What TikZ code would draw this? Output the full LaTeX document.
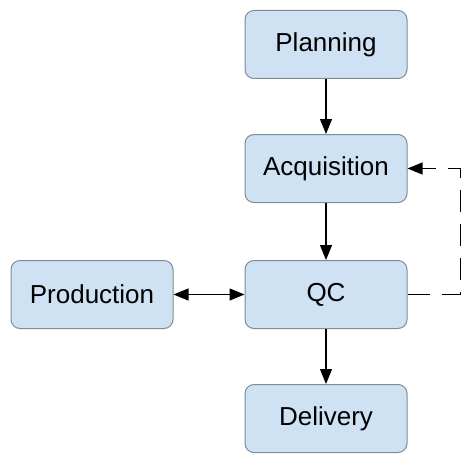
\documentclass[tikz,border=0pt]{standalone}
\usepackage{fontspec}
\setmainfont{Liberation Sans}
\usetikzlibrary{positioning, arrows.meta}
\definecolor{boxfill}{HTML}{CFE2F3}
\definecolor{boxline}{HTML}{7F8C95}
\tikzset{
    ->, % directed connectors
    >={Triangle[length=15pt, width=12pt]}, % filled arrow heads
    every node/.style={font=\fontsize{26}{30}\selectfont},
    stage/.style={draw=boxline, fill=boxfill, line width=1pt, rounded corners=9pt,
                  minimum width=162pt, minimum height=68pt}, % process boxes
    node distance=55pt, % gap between two boxes
}
\begin{document}
\begin{tikzpicture}[x=1pt, y=-1pt, line width=1.2pt]
    \useasboundingbox (0,0) rectangle (474,460);
    \node[stage] (plan) at (326,44.5) {Planning};
    \node[stage, below=of plan] (acq) {Acquisition};
    \node[stage, below=57pt of acq] (qc) {QC};
    \node[stage, below=of qc] (del) {Delivery};
    \node[stage, left=71pt of qc] (prod) {Production};
    \draw
    (plan) edge (acq)
    (acq) edge (qc)
    (qc) edge (del)
    (prod) edge[<->] (qc);
    \draw[dash pattern=on 22pt off 12pt] (qc.east) -- ++(53,0) |- (acq.east);
\end{tikzpicture}
\end{document}
